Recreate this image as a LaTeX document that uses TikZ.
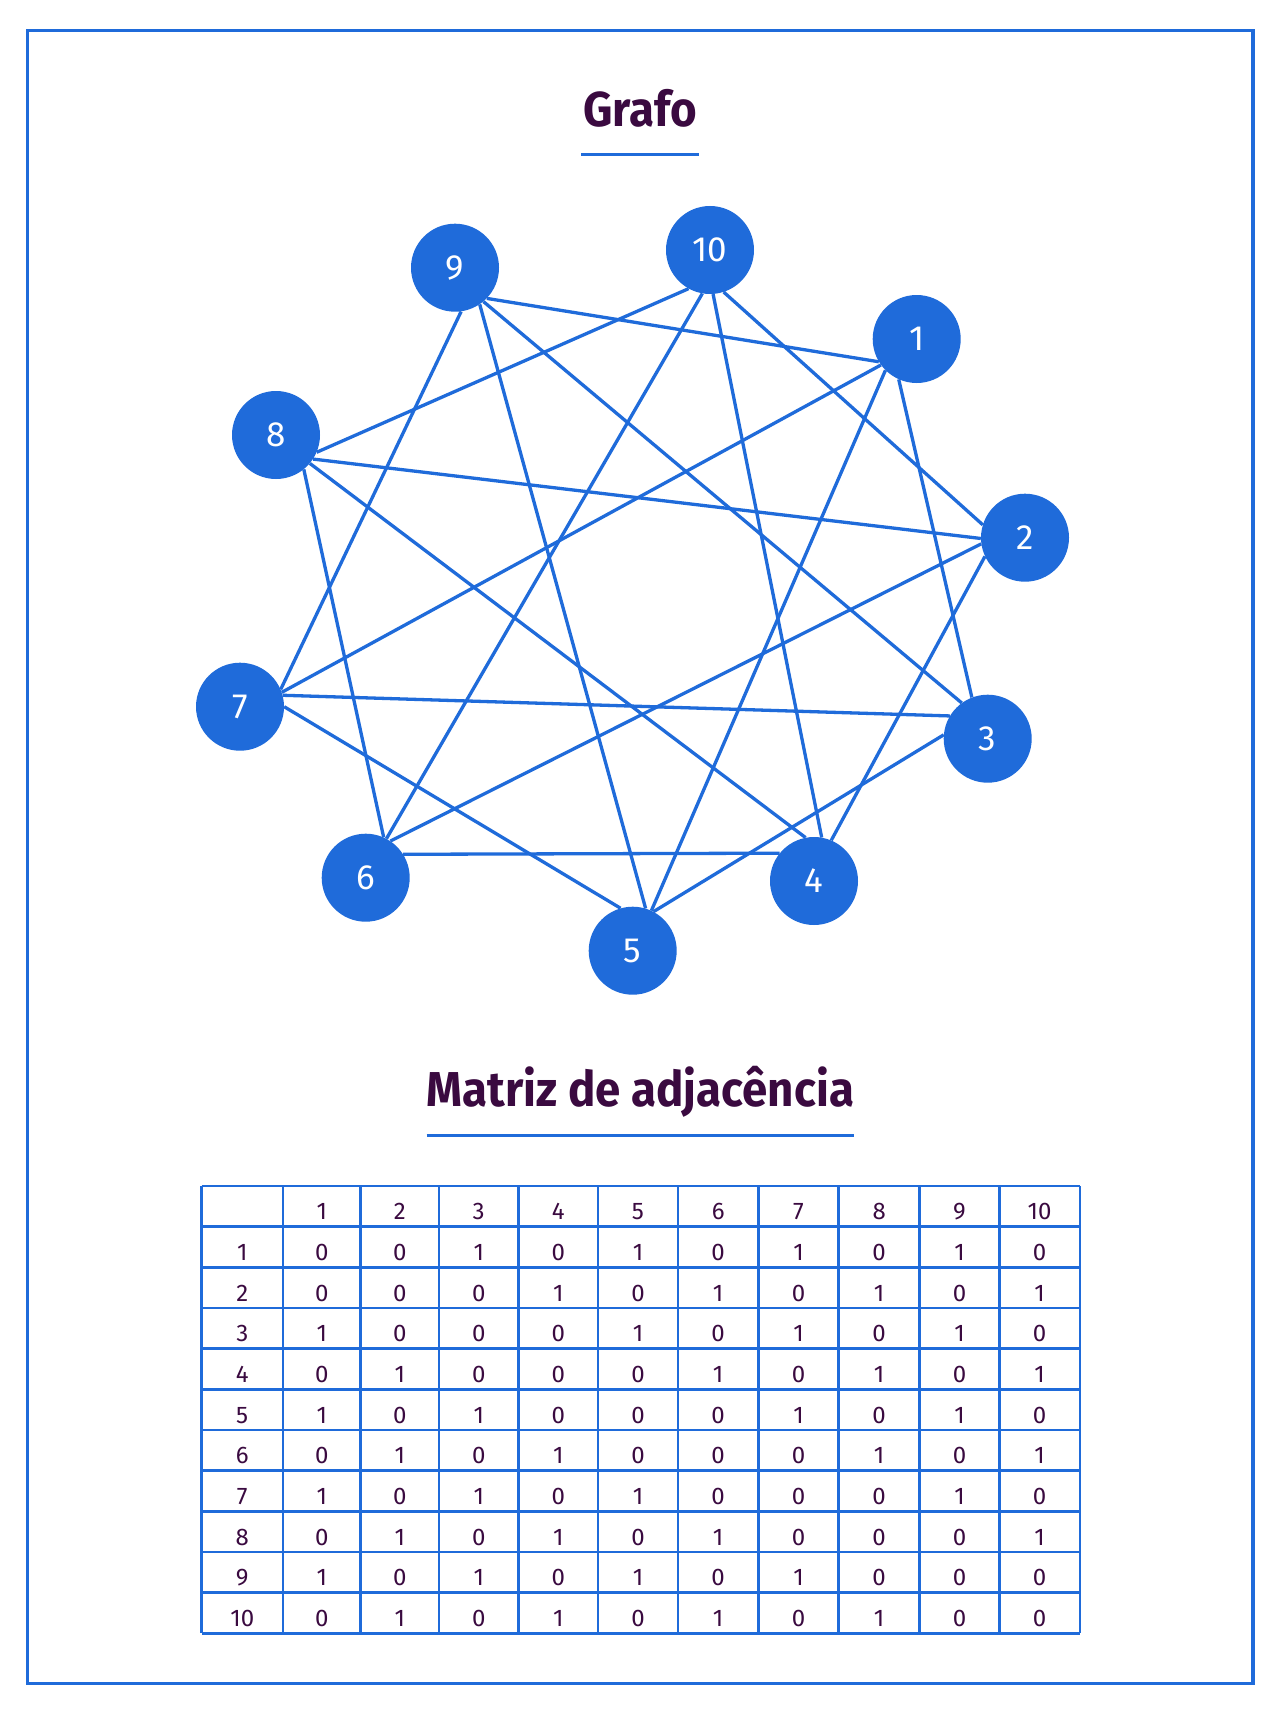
\documentclass[tikz,border=0pt]{standalone}
\usepackage{graphicx}
\usepackage{fontspec}
\setmainfont{Fira Sans}
\definecolor{gblue}{HTML}{1F6BDA}
\definecolor{gpurple}{HTML}{3A0A40}
\newcommand{\ttlbox}[1]{\scalebox{0.932}[1]{#1}}
\begin{document}
\begin{tikzpicture}[x=1pt,y=-1pt,
  vert/.style={circle,fill=gblue,minimum size=88pt,inner sep=0pt,text=white,font=\fontsize{35}{40}\selectfont},
  edge/.style={gblue,line width=3.3pt},
  title/.style={anchor=base,text=gpurple,font=\fontsize{49}{55}\selectfont\bfseries},
  uline/.style={gblue,line width=3pt},
  gridline/.style={gblue,line width=2.6pt},
  cell/.style={anchor=base,text=gpurple,inner sep=0pt,font=\fontsize{24}{28}\selectfont}]
\useasboundingbox (0,0) rectangle (1280,1712);
\fill[white] (0,0) rectangle (1280,1712);
\draw[gblue,line width=3.6pt] (27.3,30.7) rectangle (1252.7,1683.3);

% titles
\node[title] (t1) at (640,126.7) {\ttlbox{Grafo}};
\draw[uline] (581,155) -- (699,155);
\node[title] (t2) at (640.3,1106.7) {\ttlbox{Matriz de adjacência}};
\draw[uline] (426.7,1135) -- (854,1135);

% vertices
\node[vert] (n1) at (916.7,339) {1};
\node[vert] (n2) at (1025,537.7) {2};
\node[vert] (n3) at (987.7,738.7) {3};
\node[vert] (n4) at (814,881) {4};
\node[vert] (n5) at (632.7,950.7) {5};
\node[vert] (n6) at (365.7,877.7) {6};
\node[vert] (n7) at (240,706.7) {7};
\node[vert] (n8) at (276,435) {8};
\node[vert] (n9) at (455,267.7) {9};
\node[vert] (n10) at (710,250) {10};

% edges
\draw[edge] (n9.-44) -- (n1.-149.8);
\draw[edge] (n9.-50.5) -- (n3.126.3);
\draw[edge] (n9.-56.2) -- (n5.73.8);
\draw[edge] (n9.-82) -- (n7.23.8);
\draw[edge] (n10.-119) -- (n8.-23.2);
\draw[edge] (n10.-100.9) -- (n6.62.5);
\draw[edge] (n10.-86.5) -- (n4.80);
\draw[edge] (n10.-72.3) -- (n2.163);
\draw[edge] (n1.-144.7) -- (n7.19.1);
\draw[edge] (n1.-135) -- (n5.65);
\draw[edge] (n1.-114.7) -- (n3.111.1);
\draw[edge] (n8.-33.1) -- (n2.-179);
\draw[edge] (n8.-40.6) -- (n4.101.6);
\draw[edge] (n8.-51.7) -- (n6.66.8);
\draw[edge] (n2.-172.4) -- (n6.56);
\draw[edge] (n2.-155.7) -- (n4.67.8);
\draw[edge] (n7.15.1) -- (n3.149);
\draw[edge] (n7.0.9) -- (n5.106.7);
\draw[edge] (n3.175) -- (n5.62.2);
\draw[edge] (n6.32.2) -- (n4.141.5);

% table grid
\foreach \x in {201.5,283,360.5,439,518.4,598,678,758.3,838.7,919.6,999.4,1079.8}
  \draw[gridline] (\x,1186) -- (\x,1633.3);
\foreach \k in {0,...,11}
  \draw[gridline] (201.5,1186+40.664*\k) -- (1079.8,1186+40.664*\k);

\def\colx{{242.25,321.75,399.75,478.7,558.2,638,718.15,798.5,879.15,959.5,1039.6}}
\foreach \h in {1,...,10} {
  \pgfmathsetmacro\cx{\colx[\h]}
  \node[cell] (h\h) at (\cx,1219.7) {\h};
}
\foreach \r/\vals in {1/{0,0,1,0,1,0,1,0,1,0},
                      2/{0,0,0,1,0,1,0,1,0,1},
                      3/{1,0,0,0,1,0,1,0,1,0},
                      4/{0,1,0,0,0,1,0,1,0,1},
                      5/{1,0,1,0,0,0,1,0,1,0},
                      6/{0,1,0,1,0,0,0,1,0,1},
                      7/{1,0,1,0,1,0,0,0,1,0},
                      8/{0,1,0,1,0,1,0,0,0,1},
                      9/{1,0,1,0,1,0,1,0,0,0},
                      10/{0,1,0,1,0,1,0,1,0,0}} {
  \pgfmathsetmacro\by{1186+40.664*\r+33.7}
  \node[cell] (r\r) at (242.25,\by) {\r};
  \foreach \v [count=\c] in \vals {
    \pgfmathsetmacro\cx{\colx[\c]}
    \node[cell] (m\r-\c) at (\cx,\by) {\v};
  }
}
\end{tikzpicture}
\end{document}
